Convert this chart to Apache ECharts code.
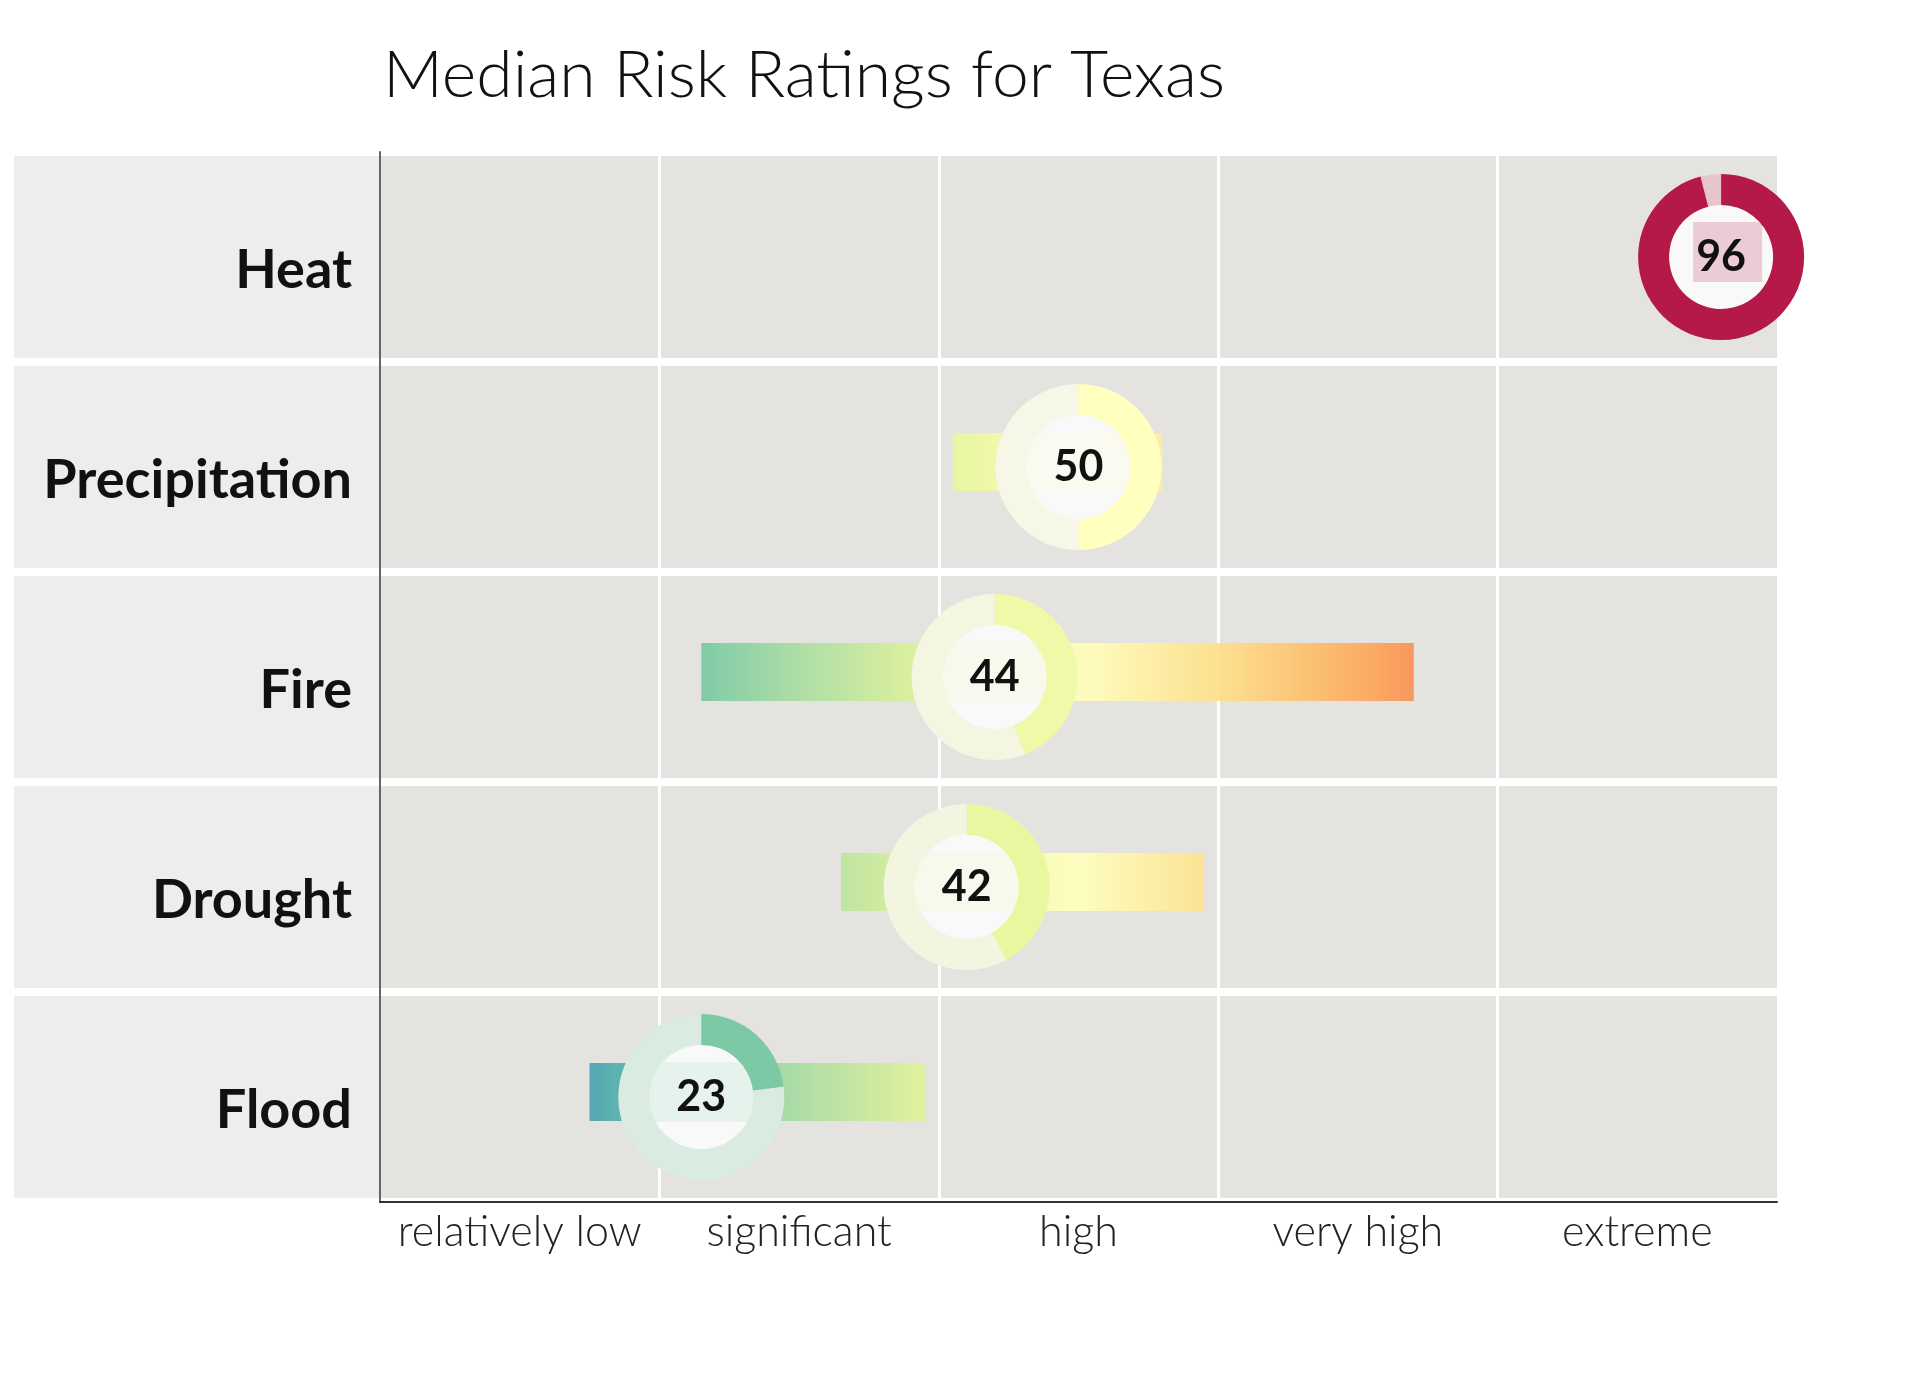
<!DOCTYPE html>
<html>
<head>
<meta charset="utf-8">
<script src="https://cdn.jsdelivr.net/npm/echarts@6/dist/echarts.min.js"></script>
<style>
html,body{margin:0;padding:0;background:#fff;}
#chart{width:1920px;height:1396px;}
</style>
</head>
<body>
<div id="chart"></div>
<script>
// ---- data ----
const categories = ['Heat', 'Precipitation', 'Fire', 'Drought', 'Flood'];
const medians = [96, 50, 44, 42, 23];
const rangeLow = [null, 41, 23, 33, 15];
const rangeHigh = [null, 56, 74, 59, 39];
const riskLevels = ['relatively low', 'significant', 'high', 'very high', 'extreme'];
const levelBounds = [20, 40, 60, 80];

// ---- colour map (reversed Spectral) ----
const spectral = ['#5e4fa2','#3288bd','#66c2a5','#abdda4','#e6f598','#ffffbf','#fee08b','#fdae61','#f46d43','#d53e4f','#9e0142'];
function hex2rgb(h){return [parseInt(h.slice(1,3),16),parseInt(h.slice(3,5),16),parseInt(h.slice(5,7),16)];}
function rgbStr(c){return 'rgb('+c.map(x=>Math.round(x)).join(',')+')';}
function cmapRgb(v){
  let t = Math.max(0, Math.min(100, v)) / 10;
  let i = Math.min(9, Math.floor(t));
  let f = t - i;
  const a = hex2rgb(spectral[i]), b = hex2rgb(spectral[i+1]);
  return [0,1,2].map(k => a[k] + (b[k]-a[k]) * f);
}
function mix(c, base, w){ // w = weight of c
  const b = hex2rgb(base);
  return [0,1,2].map(k => c[k]*w + b[k]*(1-w));
}

const chart = echarts.init(document.getElementById('chart'));

const rowBgData = categories.map((c, i) => [0, i]);
const barData = categories.map((c, i) => [i, rangeLow[i], rangeHigh[i]]).filter(d => d[1] != null);
const donutData = categories.map((c, i) => [medians[i], i]);

const OUTER = 83, INNER = 52, BAR_H = 58, OFF = -5;

chart.setOption({
  backgroundColor: '#ffffff',
  animation: false,
  title: {
    text: 'Median Risk Ratings for Texas',
    left: 378, top: 38,
    textStyle: {fontFamily: 'Lato', fontWeight: 300, fontSize: 66, color: '#111'}
  },
  grid: {left: 380, right: 143, top: 152, bottom: 194, containLabel: false},
  xAxis: [
    {
      type: 'value', min: 0, max: 100, interval: 20,
      axisLabel: {show: false}, axisLine: {show: false}, axisTick: {show: false},
      splitLine: {show: false}
    },
    {
      type: 'category', data: riskLevels, position: 'bottom', boundaryGap: true, z: 6,
      axisLine: {show: true, lineStyle: {color: '#333', width: 2}},
      axisTick: {show: false}, splitLine: {show: false},
      axisLabel: {interval: 0, fontFamily: 'Lato', fontWeight: 300, fontSize: 43, color: '#222', margin: 9}
    }
  ],
  yAxis: {
    type: 'category', data: categories, inverse: true, z: 3,
    axisLine: {show: true, lineStyle: {color: '#666', width: 2}},
    axisTick: {show: false},
    axisLabel: {fontFamily: 'Lato', fontWeight: 700, fontSize: 54, color: '#111', margin: 28,
      verticalAlign: 'top', lineHeight: 28},
    splitArea: {show: true, areaStyle: {color: ['#e4e3e0']}},
    splitLine: {show: true, lineStyle: {color: '#ffffff', width: 8}}
  },
  series: [
    {
      type: 'custom', name: 'labelBands', xAxisIndex: 0, yAxisIndex: 0, z: 1, silent: true,
      clip: false,
      data: rowBgData,
      encode: {x: 0, y: 1},
      renderItem: function (params, api) {
        const p = api.coord([0, api.value(1)]);
        const bandH = api.size([0, 1])[1];
        const left = 14;
        return {
          type: 'rect',
          shape: {x: left, y: p[1] - bandH / 2 + 4, width: params.coordSys.x - left - 1, height: bandH - 8},
          style: {fill: '#ededec'}
        };
      }
    },
    {
      type: 'line', name: 'levelLines', xAxisIndex: 0, yAxisIndex: 0, z: 3.5, silent: true,
      data: [],
      markLine: {
        z: 3.5,
        silent: true, symbol: 'none', label: {show: false},
        lineStyle: {color: '#ffffff', width: 3, type: 'solid', opacity: 1},
        emphasis: {disabled: true},
        data: levelBounds.map(b => ({xAxis: b}))
      }
    },
    {
      type: 'custom', name: 'ranges', xAxisIndex: 0, yAxisIndex: 0, z: 4, clip: false,
      data: barData,
      encode: {x: [1, 2], y: 0},
      renderItem: function (params, api) {
        const cat = api.value(0), lo = api.value(1), hi = api.value(2);
        const p0 = api.coord([lo, cat]), p1 = api.coord([hi, cat]);
        const stops = [];
        const n = 20;
        for (let k = 0; k <= n; k++) {
          const v = lo + (hi - lo) * k / n;
          stops.push({offset: k / n, color: rgbStr(cmapRgb(v))});
        }
        return {
          type: 'rect',
          shape: {x: p0[0], y: p0[1] - BAR_H / 2 + OFF, width: p1[0] - p0[0], height: BAR_H},
          style: {fill: new echarts.graphic.LinearGradient(0, 0, 1, 0, stops), opacity: 0.95}
        };
      }
    },
    {
      type: 'custom', name: 'medians', xAxisIndex: 0, yAxisIndex: 0, z: 5, clip: false,
      data: donutData,
      encode: {x: 0, y: 1},
      renderItem: function (params, api) {
        const v = api.value(0), cat = api.value(1);
        const c = api.coord([v, cat]);
        const col = cmapRgb(v);
        const start = -Math.PI / 2;
        const end = start + 2 * Math.PI * v / 100;
        const hasBar = rangeLow[params.dataIndex] != null;
        const boxW = hasBar ? 108 : 69;
        const boxDx = hasBar ? 0 : 6.5;
        return {
          type: 'group',
          children: [
            {type: 'circle', shape: {cx: c[0], cy: c[1], r: INNER + 1}, style: {fill: '#f9f9f9'}},
            {type: 'rect', shape: {x: c[0] + boxDx - boxW / 2, y: c[1] + OFF - 30, width: boxW, height: 60},
              style: {fill: rgbStr(mix(col, '#f9f9f9', hasBar ? 0.15 : 0.2))}},
            {type: 'sector', shape: {cx: c[0], cy: c[1], r0: INNER, r: OUTER, startAngle: end, endAngle: start + 2 * Math.PI, clockwise: true},
              style: {fill: rgbStr(mix(col, '#f5f5f2', 0.22))}},
            {type: 'sector', shape: {cx: c[0], cy: c[1], r0: INNER, r: OUTER, startAngle: start, endAngle: end, clockwise: true},
              style: {fill: rgbStr(col)}},
            {type: 'text', x: c[0], y: c[1],
              style: {text: String(v), fontFamily: 'Lato', fontWeight: 'bold', fontSize: 43, fill: '#111', align: 'center', verticalAlign: 'middle'}}
          ]
        };
      }
    }
  ]
});
</script>
</body>
</html>
